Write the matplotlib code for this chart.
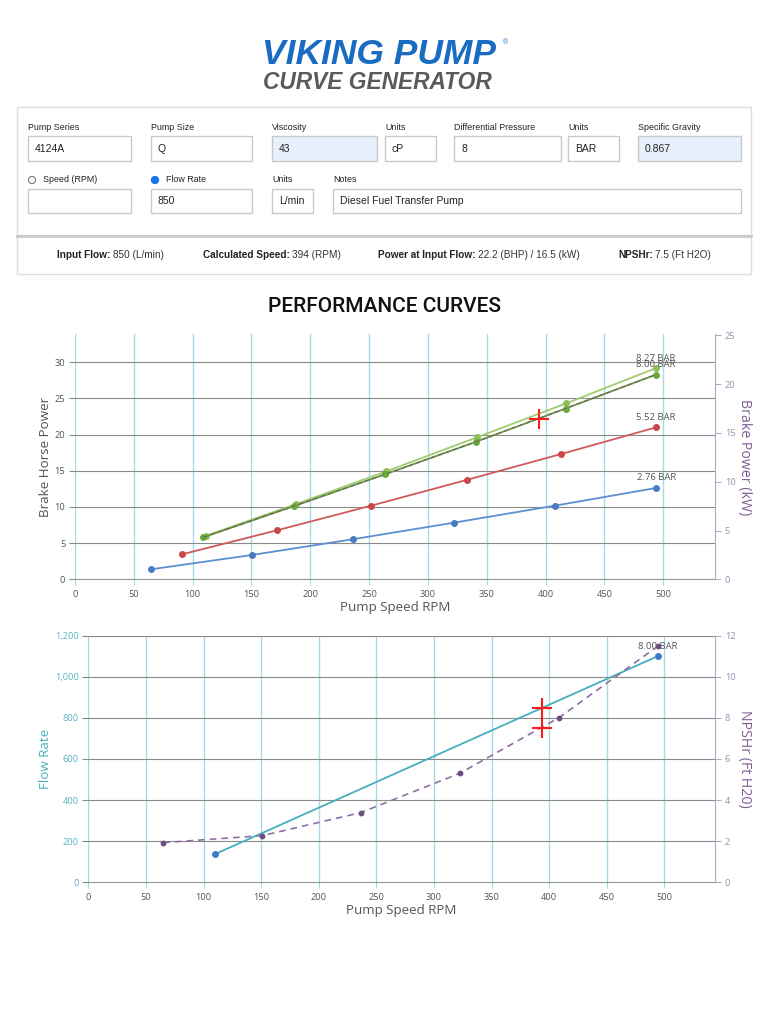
import numpy as np
import matplotlib
matplotlib.use('Agg')
import matplotlib.pyplot as plt
from matplotlib.patches import Rectangle, Circle
from matplotlib.ticker import StrMethodFormatter

# form fields (label, value)
row1_labels = ['Pump Series', 'Pump Size', 'Viscosity', 'Units', 'Differential Pressure', 'Units', 'Specific Gravity']
row1_values = ['4124A', 'Q', '43', 'cP', '8', 'BAR', '0.867']
row2_labels = ['Speed (RPM)', 'Flow Rate', 'Units', 'Notes']
row2_values = ['', '850', 'L/min', 'Diesel Fuel Transfer Pump']
result_keys = ['Input Flow:', 'Calculated Speed:', 'Power at Input Flow:', 'NPSHr:']
result_vals = ['850 (L/min)', '394 (RPM)', '22.2 (BHP) / 16.5 (kW)', '7.5 (Ft H2O)']

# performance curves: speed (RPM) vs brake horse power
speed_276 = [64.6, 150.4, 236, 322.3, 408, 494]
bhp_276 = [1.38, 3.36, 5.53, 7.83, 10.18, 12.62]
speed_552 = [91.2, 171.7, 251.8, 332.9, 413.3, 494]
bhp_552 = [3.46, 6.77, 10.18, 13.73, 17.32, 21.0]
speed_800 = [109, 186.4, 263.4, 340.8, 417, 494]
bhp_800 = [5.8, 10.13, 14.5, 19.0, 23.6, 28.3]
speed_827 = [111, 188, 264.3, 341.3, 417.3, 494]
bhp_827 = [6.0, 10.4, 14.9, 19.6, 24.3, 29.2]

# flow / NPSHr
flow_speed = [110.3, 494.6]
flow = [138, 1101]
npshr_speed = [65, 151, 236.4, 322.3, 408.6, 494.6]
npshr = [1.93, 2.27, 3.39, 5.30, 8.01, 11.5]

# operating point
op_speed = 394
op_bhp = 22.2
op_flow = 850
op_npshr = 7.5

FORM = 'Liberation Sans'
CHART = 'Open Sans'

fig = plt.figure(figsize=(7.68, 10.24), dpi=100)
bg = fig.add_axes([0, 0, 1, 1])
bg.set_xlim(0, 768)
bg.set_ylim(1024, 0)
bg.axis('off')

# logo
bg.text(262, 64, 'VIKING PUMP', fontsize=25.5, fontweight='bold', fontstyle='italic',
        color='#1a6cc2', family=FORM, va='baseline', ha='left')
bg.text(503, 43, '®', fontsize=5, color='#1a6cc2', family=FORM, va='center')
bg.text(263, 89, 'CURVE GENERATOR', fontsize=16.4, fontweight='bold', fontstyle='italic',
        color='#5a5a5c', family=FORM, va='baseline', ha='left')

# form panel
bg.add_patch(Rectangle((17, 107), 734, 128, fill=False, ec='#dddddd', lw=1))
bg.add_patch(Rectangle((17, 236), 734, 38, fill=False, ec='#dddddd', lw=1))
bg.plot([17, 751], [235.5, 235.5], color='#cccccc', lw=2.2)


def field(label, value, x0, x1, ly, y0, y1, fill='white'):
    if label:
        bg.text(x0, ly, label, fontsize=6.4, family=FORM, color='#222', va='center')
    box = Rectangle((x0, y0), x1 - x0, y1 - y0, fc=fill, ec='#c9c9c9', lw=1)
    bg.add_patch(box)
    t = bg.text(x0 + 7, (y0 + y1) / 2 + 0.5, value, fontsize=7.5, family=FORM,
                color='#222', va='center')
    t.set_clip_path(box)


row1_x = [(28, 131), (151, 252), (272, 377), (385, 436), (454, 561), (568, 619), (638, 741)]
row1_fill = ['white', 'white', '#e8f0fe', 'white', 'white', 'white', '#e8f0fe']
for lab, val, (x0, x1), fc in zip(row1_labels, row1_values, row1_x, row1_fill):
    field(lab, val, x0, x1, 128, 136, 161, fc)

row2_x = [(28, 131), (151, 252), (272, 313), (333, 741)]
for i, (lab, val, (x0, x1)) in enumerate(zip(row2_labels, row2_values, row2_x)):
    if i < 2:
        field('', val, x0, x1, 180, 189, 213)
        filled = i == 1
        bg.add_patch(Circle((x0 + 4, 180), 3.6, fc='#1a73e8' if filled else 'white',
                            ec='#1a73e8' if filled else '#777', lw=0.8))
        bg.text(x0 + 15, 180, lab, fontsize=6.4, family=FORM, color='#222', va='center')
    else:
        field(lab, val, x0, x1, 180, 189, 213)

# results line
renderer = fig.canvas.get_renderer()
for key, val, x in zip(result_keys, result_vals, [57, 203, 378, 618]):
    t = bg.text(x, 255.5, key, fontsize=7.2, fontweight='bold', family=FORM, color='#222', va='center')
    w = t.get_window_extent(renderer).width
    bg.text(x + w + 2.5, 255.5, val, fontsize=7.2, family=FORM, color='#333', va='center')

bg.text(384, 306, 'PERFORMANCE CURVES', fontsize=15, family='Roboto', fontweight='medium',
        color='#111', ha='center', va='center')

GRID_V = '#a9d9e6'
GRID_H = '#8a8a8a'
PURPLE = '#7e5f93'
PURPLE_T = '#9d89ae'
TEAL = '#45afbd'


def style_axes(ax, axr, ylab, ylab_color, ytick_color, rlab, rmax):
    ax.set_xlim(0, 544)
    ax.set_xticks(np.arange(0, 501, 50))
    ax.grid(axis='x', color=GRID_V, lw=1)
    ax.grid(axis='y', color=GRID_H, lw=0.8)
    ax.set_axisbelow(True)
    for s in ['top', 'right', 'left']:
        ax.spines[s].set_visible(False)
    ax.spines['bottom'].set_color('#999999')
    ax.tick_params(axis='x', colors='#555', labelsize=6.7, length=4, pad=4)
    ax.tick_params(axis='x', color=GRID_V)
    ax.tick_params(axis='y', labelcolor=ytick_color, labelsize=6.7, length=4, color=GRID_H, pad=3)
    for t in ax.get_xticklabels() + ax.get_yticklabels():
        t.set_family(CHART)
    ax.set_xlabel('Pump Speed RPM', family=CHART, fontsize=9.6, color='#555', labelpad=1)
    ax.set_ylabel(ylab, family=CHART, fontsize=9.6, color=ylab_color, labelpad=2)
    axr.set_ylim(0, rmax)
    for s in ['top', 'left', 'bottom']:
        axr.spines[s].set_visible(False)
    axr.spines['right'].set_color('#b8a6c8')
    axr.tick_params(axis='y', colors=PURPLE_T, labelsize=6.7, length=4, pad=3)
    axr.tick_params(axis='y', color='#b8a6c8')
    for t in axr.get_yticklabels():
        t.set_family(CHART)
    axr.set_ylabel(rlab, family=CHART, fontsize=10.2, color=PURPLE, rotation=270, labelpad=12)


# chart 1: brake horse power
ax1 = fig.add_axes([75 / 768, (1024 - 579.3) / 1024, 640 / 768, 245.3 / 1024])
ax1r = ax1.twinx()
ax1.set_ylim(0, 33.9)
ax1.set_yticks(np.arange(0, 31, 5))
ax1r.set_yticks(np.arange(0, 26, 5))
style_axes(ax1, ax1r, 'Brake Horse Power', '#555', '#555', 'Brake Power (kW)', 25.15)

series = [(speed_276, bhp_276, '#5b8fd2', '#4a7cc4', '2.76 BAR'),
          (speed_552, bhp_552, '#d05a5a', '#c84848', '5.52 BAR'),
          (speed_827, bhp_827, '#9fcd6e', '#8cc05a', '8.27 BAR'),
          (speed_800, bhp_800, '#6f9440', '#6aaa3a', '8.00 BAR')]
for sx, sy, lc, mc, lab in series:
    ax1.plot(sx, sy, color=lc, lw=1.3, marker='o', ms=4, mfc=mc, mec=mc, zorder=3)
    ax1.annotate(lab, (sx[-1], sy[-1]), xytext=(0, 10), textcoords='offset pixels',
                 ha='center', va='center', fontsize=6.8, family=CHART, color='#555')
ax1.plot(speed_800, bhp_800, color='#666666', lw=0.8, ls=(0, (4, 3)), zorder=4)
ax1.plot(op_speed, op_bhp, marker='+', ms=14, mew=1.5, color='#ff1a1a', zorder=5)

# chart 2: flow rate and NPSHr
ax2 = fig.add_axes([88.3 / 768, (1024 - 882.3) / 1024, 626.7 / 768, 246.6 / 1024])
ax2r = ax2.twinx()
ax2.set_ylim(0, 1200)
ax2.set_yticks(np.arange(0, 1201, 200))
ax2.yaxis.set_major_formatter(StrMethodFormatter('{x:,.0f}'))
ax2r.set_yticks(np.arange(0, 13, 2))
style_axes(ax2, ax2r, 'Flow Rate', TEAL, '#55b5c3', 'NPSHr (Ft H20)', 12)

ax2.plot(flow_speed, flow, color=TEAL, lw=1.3, marker='o', ms=4, mfc='#3d7cc9', mec='#3d7cc9', zorder=3)
ax2.annotate('8.00 BAR', (flow_speed[-1], flow[-1]), xytext=(0, 10), textcoords='offset pixels',
             ha='center', va='center', fontsize=6.8, family=CHART, color='#555')
ax2r.plot(npshr_speed, npshr, color='#8e6fa3', lw=1.2, ls=(0, (4, 3)), marker='o', ms=3.2,
          mfc='#6b4f80', mec='#6b4f80', zorder=3)
ax2.plot(op_speed, op_flow, marker='+', ms=14, mew=1.5, color='#ff1a1a', zorder=5)
ax2r.plot(op_speed, op_npshr, marker='+', ms=14, mew=1.5, color='#ff1a1a', zorder=5)

fig.savefig('out.png', dpi=100, facecolor='white')
